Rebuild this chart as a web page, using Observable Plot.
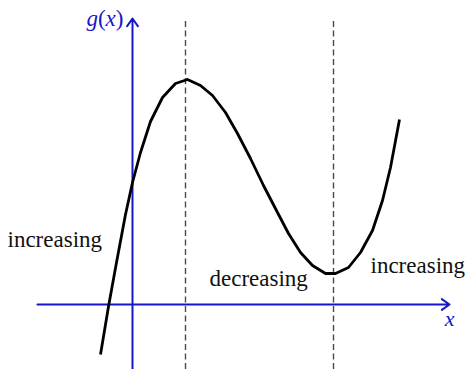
<!DOCTYPE html>
<html>
<head>
<meta charset="utf-8">
<script src="https://cdn.jsdelivr.net/npm/d3@7"></script>
<script src="https://cdn.jsdelivr.net/npm/@observablehq/plot@0.6"></script>
<style>
  html, body { margin: 0; padding: 0; background: #fff; }
  #chart svg { display: block; }
</style>
</head>
<body>
<div id="chart"></div>
<script>
// Curve g(x) (arbitrary units, origin at the axes crossing)
const curveX = [-32, -24, -16, -7, 0, 8, 18, 30, 43, 55, 68, 80, 93, 105, 118, 131, 145, 156, 168, 180, 193, 203, 216, 228, 240, 250, 258, 267];
const curveY = [-50, -2, 42, 90, 122, 152, 183, 207, 221, 225, 219, 209, 192, 171, 146, 119, 92, 71, 52, 39, 31, 31, 37, 52, 74, 104, 137, 185];

// Turning points (local max / local min)
const criticalX = [53, 201];

// Region labels
const regionText = ["increasing", "decreasing", "increasing"];
const regionX = [-125, 77, 238];
const regionY = [58, 19, 32];

// Axis extents
const xAxisFrom = -95, xAxisTo = 317;
const yAxisFrom = -65, yAxisTo = 286;

const curve = curveX.map((x, i) => ({x, y: curveY[i]}));
const regions = regionText.map((t, i) => ({t, x: regionX[i], y: regionY[i]}));

const blue = "#1616c8";

const plot = Plot.plot({
  width: 474,
  height: 369,
  margin: 0,
  x: {domain: [-132, 342], axis: null},
  y: {domain: [-65, 304], axis: null},
  marks: [
    Plot.ruleX(criticalX, {x: d => d, y1: -65, y2: 286, stroke: "#4a4a4a", strokeWidth: 1.4, strokeDasharray: "6,3.5"}),
    Plot.arrow([{x1: xAxisFrom, y1: 0, x2: xAxisTo, y2: 0}], {x1: "x1", y1: "y1", x2: "x2", y2: "y2", stroke: blue, strokeWidth: 2, headLength: 7, headAngle: 70}),
    Plot.arrow([{x1: 0, y1: yAxisFrom, x2: 0, y2: yAxisTo}], {x1: "x1", y1: "y1", x2: "x2", y2: "y2", stroke: blue, strokeWidth: 2, headLength: 7, headAngle: 70}),
    Plot.line(curve, {x: "x", y: "y", stroke: "black", strokeWidth: 2.8, strokeLinejoin: "round", strokeLinecap: "butt"}),
    Plot.text(regions, {x: "x", y: "y", text: "t", textAnchor: "start", lineAnchor: "bottom", fontSize: 23, fontFamily: "Liberation Serif", fill: "#111"}),
    Plot.text([{t: "g(x)", x: -9, y: 279}], {x: "x", y: "y", text: "t", textAnchor: "end", lineAnchor: "bottom", fontSize: 23, fontFamily: "Liberation Serif", fill: blue}),
    Plot.text([{t: "x", x: 317, y: -21}], {x: "x", y: "y", text: "t", textAnchor: "middle", lineAnchor: "bottom", fontSize: 22, fontFamily: "Liberation Serif", fontStyle: "italic", fill: blue})
  ]
});

d3.select(plot).selectAll("text").each(function() {
  if (this.textContent === "g(x)") {
    this.textContent = "";
    const sel = d3.select(this);
    sel.append("tspan").attr("font-style", "italic").text("g");
    sel.append("tspan").text("(");
    sel.append("tspan").attr("font-style", "italic").text("x");
    sel.append("tspan").text(")");
  }
});

document.getElementById("chart").appendChild(plot);
</script>
</body>
</html>
